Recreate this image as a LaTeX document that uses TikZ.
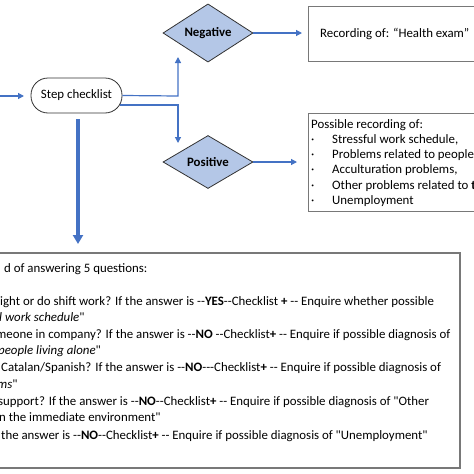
\documentclass[tikz,border=0pt]{standalone}
\usepackage{fontspec}
\setmainfont{Carlito}[Ligatures=TeXOff]
\usetikzlibrary{arrows.meta,shapes.geometric,calc}
\definecolor{ablue}{RGB}{68,114,196}
\definecolor{dfill}{RGB}{180,199,231}
\definecolor{bgray}{RGB}{120,120,120}
\definecolor{dgray}{RGB}{50,50,50}
\begin{document}
\begin{tikzpicture}[x=1pt,y=-1pt,
  font=\fontsize{12.85}{15}\selectfont,
  conn/.style={draw=ablue,line width=1.2pt,-{Triangle[length=6pt,width=6pt]}},
  bigarrow/.style={draw=ablue,line width=3.5pt,-{Triangle[length=9pt,width=10pt]}},
  decision/.style={diamond,draw=dgray,fill=dfill,line width=0.8pt,minimum width=90pt,minimum height=53pt,inner sep=0pt,font=\fontsize{12.85}{15}\selectfont\bfseries},
  recbox/.style={draw=bgray,line width=1pt,anchor=north west,inner sep=0pt},
  txt/.style={anchor=base west,inner sep=0pt}]
\useasboundingbox (0,0) rectangle (474,474);
\clip (0,0) rectangle (474,474);

% step checklist
\node[draw=dgray,line width=0.8pt,rounded corners=17pt,minimum width=91pt,minimum height=35pt,inner sep=0pt] (sc) at (76.5,95.5) {Step checklist};
\coordinate (inl) at (0,96);
\coordinate (inr) at (24,96);
\draw[conn] (inl) -- (inr);

% decisions
\node[decision] (neg) at (208,33) {Negative};
\node[decision] (pos) at (208,162) {Positive};

% connectors from step checklist
\coordinate (upbend) at (178,96);
\coordinate (uptip) at (178,57);
\coordinate (lostart) at ($(sc.east)+(-2,9.5)$);
\coordinate (lobend) at (178,105);
\coordinate (lotip) at (178,143);
\draw[conn] (sc.east) -- (upbend) -- (uptip);
\draw[conn] (lostart) -- (lobend) -- (lotip);

% record boxes
\node[recbox,minimum width=180pt,minimum height=55pt] (rec1) at (308,6) {};
\node[txt] (rec1t) at (320,37) {Recording of: “Health exam”};
\node[recbox,minimum width=180pt,minimum height=98pt] (rec2) at (308,113) {};
\coordinate (t1) at (302,33);
\coordinate (t2) at (297,162);
\draw[conn] (neg.east) -- (t1);
\draw[conn] (pos.east) -- (t2);

\node[txt] (p0) at (311,128) {Possible recording of:};
\node[txt] (b1) at (311,143) {·};
\node[txt] (p1) at (332,143) {Stressful work schedule,};
\node[txt] (b2) at (311,158) {·};
\node[txt] (p2) at (332,158) {Problems related to people living alone,};
\node[txt] (b3) at (311,173) {·};
\node[txt] (p3) at (332,173) {Acculturation problems,};
\node[txt] (b4) at (311,189) {·};
\node[txt] (p4) at (332,189) {Other problems related to \textbf{the immediate environment},};
\node[txt] (b5) at (311,204) {·};
\node[txt] (p5) at (332,204) {Unemployment};

% big arrow and question box
\coordinate (bigtip) at (78,244);
\draw[bigarrow] (sc.south -| bigtip) ++(0,6) -- (bigtip);
\node[recbox,line width=1.6pt,minimum width=480pt,minimum height=215pt] (qbox) at (-21,252) {};

\node[txt] (q0) at (4,272) {d of answering 5 questions:};
\node[txt] (q1) at (0,305.7) {ight or do shift work? If the answer is --\textbf{YES}--Checklist \textbf{+} -- Enquire whether possible};
\node[txt] (q1b) at (-1,321.3) {\textit{l work schedule}"};
\node[txt] (q2) at (-4,338.3) {meone in company? If the answer is --\textbf{NO} --Checklist\textbf{+} -- Enquire if possible diagnosis of};
\node[txt] (q2b) at (-2,354.7) {\textit{people living alone}"};
\node[txt] (q3) at (1,371.7) {Catalan/Spanish? If the answer is --\textbf{NO}---Checklist\textbf{+} -- Enquire if possible diagnosis of};
\node[txt] (q3b) at (-3,388) {\textit{ms}"};
\node[txt] (q4) at (-2,405.7) {support? If the answer is --\textbf{NO}--Checklist\textbf{+} -- Enquire if possible diagnosis of "Other};
\node[txt] (q4b) at (-1,421.7) {n the immediate environment"};
\node[txt] (q5) at (1,439) {the answer is --\textbf{NO}--Checklist\textbf{+} -- Enquire if possible diagnosis of "Unemployment"};
\end{tikzpicture}
\end{document}
